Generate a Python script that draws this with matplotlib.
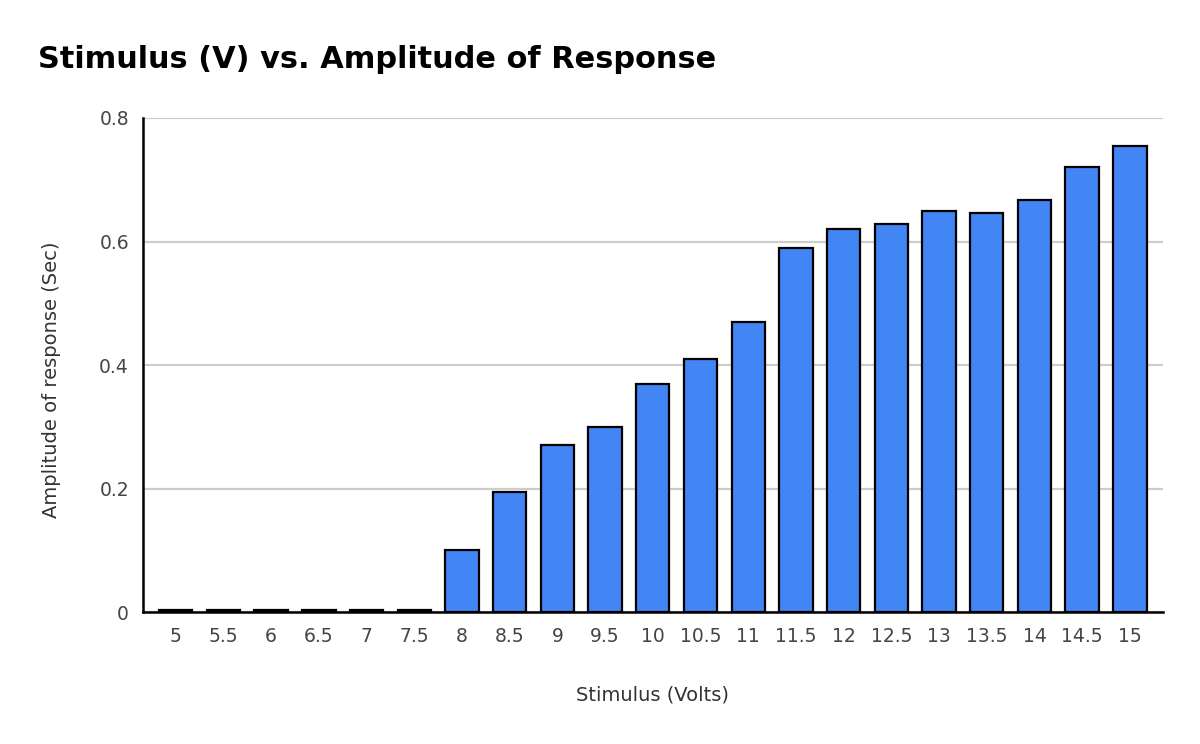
import matplotlib.pyplot as plt

plt.rcParams['font.family'] = ['DejaVu Sans']

# Datos
estimulo = ["5", "5.5", "6", "6.5", "7", "7.5", "8", "8.5", "9", "9.5", "10",
            "10.5", "11", "11.5", "12", "12.5", "13", "13.5", "14", "14.5", "15"]
amplitud = [0.004, 0.004, 0.004, 0.004, 0.004, 0.004, 0.1, 0.195, 0.27, 0.3, 0.37,
            0.41, 0.47, 0.59, 0.62, 0.628, 0.65, 0.646, 0.667, 0.72, 0.755]

fig = plt.figure(figsize=(12, 7.44), dpi=100)
ax = fig.add_axes([0.119, 0.1774, 0.85, 0.664])

posiciones = list(range(len(estimulo)))
ax.bar(posiciones, amplitud, width=0.7, color="#4285F4",
       edgecolor="black", linewidth=1.6, zorder=3)

ax.set_xlim(-0.69, len(estimulo) - 0.31)
ax.set_ylim(0, 0.8)
ax.set_yticks([0, 0.2, 0.4, 0.6, 0.8])
ax.set_yticklabels(["0", "0.2", "0.4", "0.6", "0.8"])
ax.set_xticks(posiciones)
ax.set_xticklabels(estimulo)
ax.tick_params(axis="both", length=0, labelsize=13.5, labelcolor="#444444")
ax.tick_params(axis="x", pad=11)
ax.tick_params(axis="y", pad=10)

ax.grid(axis="y", color="#cccccc", linewidth=1.6, zorder=0)
for lado in ["top", "right"]:
    ax.spines[lado].set_visible(False)
ax.spines["left"].set_linewidth(1.8)
ax.spines["bottom"].set_linewidth(1.8)
ax.spines["left"].set_zorder(4)
ax.spines["bottom"].set_zorder(4)

ax.set_xlabel("Stimulus (Volts)", fontsize=14, color="#333333", labelpad=28)
ax.set_ylabel("Amplitude of response (Sec)", fontsize=14, color="#333333")
ax.yaxis.set_label_coords(-0.080, 0.47)

fig.text(38 / 1200, 1 - 60 / 744, "Stimulus (V) vs. Amplitude of Response",
         fontsize=21.9, fontweight="bold", va="center", ha="left")

fig.savefig("out.png", dpi=100)
